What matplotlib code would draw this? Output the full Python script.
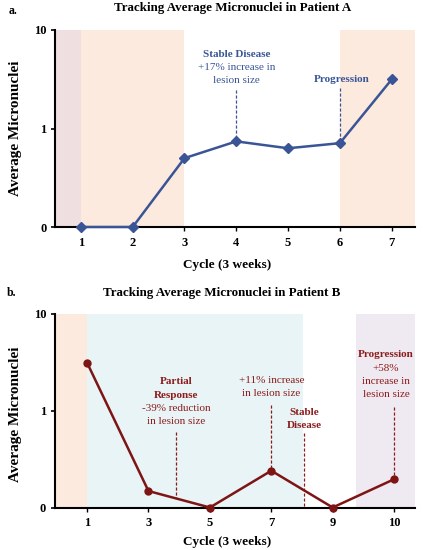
import matplotlib
matplotlib.use("Agg")
import matplotlib.pyplot as plt

# ---------------- data ----------------
cycles_a = [1, 2, 3, 4, 5, 6, 7]
values_a = [0.1, 0.1, 0.5, 0.74, 0.63, 0.71, 3.15]

cycles_b = ["1", "3", "5", "7", "9", "10"]
values_b = [3.14, 0.148, 0.1, 0.24, 0.1, 0.196]

ytick_vals = [0.1, 1, 10]
ytick_labels = ["0", "1", "10"]

title_a = "Tracking Average Micronuclei in Patient A"
title_b = "Tracking Average Micronuclei in Patient B"
xlabel = "Cycle (3 weeks)"
ylabel = "Average Micronuclei"

BLUE = "#3a5595"
RED = "#7e1414"
RED_TXT = "#8c1c1c"
PINK = "#f0dfe0"
PEACH = "#fdeadf"
CYAN = "#e8f4f6"
PURPLE = "#efeaf1"

plt.rcParams["font.family"] = ["Liberation Serif", "DejaVu Serif"]

fig = plt.figure(figsize=(4.23, 5.5), dpi=100)

def style_axes(ax, xl_coords, yl_coords):
    ax.set_yscale("log")
    ax.set_ylim(0.1, 10)
    ax.set_yticks(ytick_vals)
    ax.set_yticklabels(ytick_labels)
    ax.minorticks_off()
    for s in ["top", "right"]:
        ax.spines[s].set_visible(False)
    for s in ["left", "bottom"]:
        ax.spines[s].set_linewidth(1.5)
        ax.spines[s].set_color("black")
        ax.spines[s].set_zorder(3)
    ax.tick_params(axis="y", length=3, width=1.2, labelsize=9, pad=3)
    ax.tick_params(axis="x", length=3, width=1.0, labelsize=9, pad=4)
    for lab in ax.get_xticklabels() + ax.get_yticklabels():
        lab.set_fontweight("bold")
    ax.set_xlabel(xlabel, fontsize=9.5, fontweight="bold", va="center")
    ax.set_ylabel(ylabel, fontsize=11, fontweight="bold", va="center")
    ax.xaxis.set_label_coords(*xl_coords)
    ax.yaxis.set_label_coords(*yl_coords)

# ---------------- Panel A ----------------
axA = fig.add_axes([55/423, 1-227/550, 360/423, 197/550])
axA.set_xlim(0.5, 7.45)
axA.axvspan(0.5, 1.0, color=PINK, lw=0, zorder=0)
axA.axvspan(1.0, 3.0, color=PEACH, lw=0, zorder=0)
axA.axvspan(6.0, 7.45, color=PEACH, lw=0, zorder=0)
axA.plot(cycles_a, values_a, color=BLUE, lw=1.8, marker="D", markersize=5,
         clip_on=False, zorder=4)
axA.set_xticks(cycles_a)
axA.set_xticklabels([str(c) for c in cycles_a])
style_axes(axA, (0.478, -0.193), (-0.11, 0.5))

fsA = 8
dash = (0, (2.5, 1.5))
axA.text(4, 5.7, "Stable Disease", ha="center", va="center", color=BLUE,
         fontsize=fsA, fontweight="bold")
axA.text(4, 4.17, "+17% increase in", ha="center", va="center", color=BLUE, fontsize=fsA)
axA.text(4, 3.06, "lesion size", ha="center", va="center", color=BLUE, fontsize=fsA)
axA.plot([4, 4], [2.47, values_a[3]], color=BLUE, lw=0.9, ls=dash, zorder=3)
axA.text(6.03, 3.18, "Progression", ha="center", va="center", color=BLUE,
         fontsize=fsA, fontweight="bold")
axA.plot([6, 6], [2.57, values_a[5]], color=BLUE, lw=0.9, ls=dash, zorder=3)

fig.text(233/423, 1-8.5/550, title_a, ha="center", va="center", fontsize=9.4, fontweight="bold")
fig.text(9/423, 1-11/550, "a.", ha="left", va="center", fontsize=8.5, fontweight="bold")

# ---------------- Panel B ----------------
axB = fig.add_axes([54.5/423, 1-507.5/550, 360.5/423, 193.5/550])
xb = list(range(len(cycles_b)))
axB.set_xlim(-0.53, 5.34)
axB.axvspan(-0.53, 0.0, color=PEACH, lw=0, zorder=0)
axB.axvspan(0.0, 3.52, color=CYAN, lw=0, zorder=0)
axB.axvspan(4.38, 5.34, color=PURPLE, lw=0, zorder=0)
axB.plot(xb, values_b, color=RED, lw=1.8, marker="o", markersize=5,
         clip_on=False, zorder=4)
axB.set_xticks(xb)
axB.set_xticklabels(cycles_b)
style_axes(axB, (0.478, -0.178), (-0.107, 0.48))

fsB = 8
axB.text(1.447, 2.0, "Partial", ha="center", va="center", color=RED_TXT, fontsize=fsB, fontweight="bold")
axB.text(1.447, 1.45, "Response", ha="center", va="center", color=RED_TXT, fontsize=fsB, fontweight="bold")
axB.text(1.447, 1.06, "-39% reduction", ha="center", va="center", color=RED_TXT, fontsize=fsB)
axB.text(1.447, 0.77, "in lesion size", ha="center", va="center", color=RED_TXT, fontsize=fsB)
axB.plot([1.447, 1.447], [0.607, 0.124], color=RED_TXT, lw=0.9, ls=dash, zorder=3)

axB.text(3.0, 2.03, "+11% increase", ha="center", va="center", color=RED_TXT, fontsize=fsB)
axB.text(3.0, 1.49, "in lesion size", ha="center", va="center", color=RED_TXT, fontsize=fsB)
axB.plot([3, 3], [1.14, values_b[3]], color=RED_TXT, lw=0.9, ls=dash, zorder=3)

axB.text(3.53, 0.96, "Stable", ha="center", va="center", color=RED_TXT, fontsize=fsB, fontweight="bold")
axB.text(3.53, 0.70, "Disease", ha="center", va="center", color=RED_TXT, fontsize=fsB, fontweight="bold")
axB.plot([3.53, 3.53], [0.583, 0.1], color=RED_TXT, lw=0.9, ls=dash, zorder=3)

axB.text(4.87, 3.77, "Progression", ha="center", va="center", color=RED_TXT, fontsize=fsB, fontweight="bold")
axB.text(4.87, 2.72, "+58%", ha="center", va="center", color=RED_TXT, fontsize=fsB)
axB.text(4.87, 2.0, "increase in", ha="center", va="center", color=RED_TXT, fontsize=fsB)
axB.text(4.87, 1.48, "lesion size", ha="center", va="center", color=RED_TXT, fontsize=fsB)
axB.plot([5, 5], [1.10, values_b[5]], color=RED_TXT, lw=0.9, ls=dash, zorder=3)

fig.text(222/423, 1-293/550, title_b, ha="center", va="center", fontsize=9.4, fontweight="bold")
fig.text(7/423, 1-293/550, "b.", ha="left", va="center", fontsize=8.5, fontweight="bold")

fig.savefig("out.png", dpi=100)
